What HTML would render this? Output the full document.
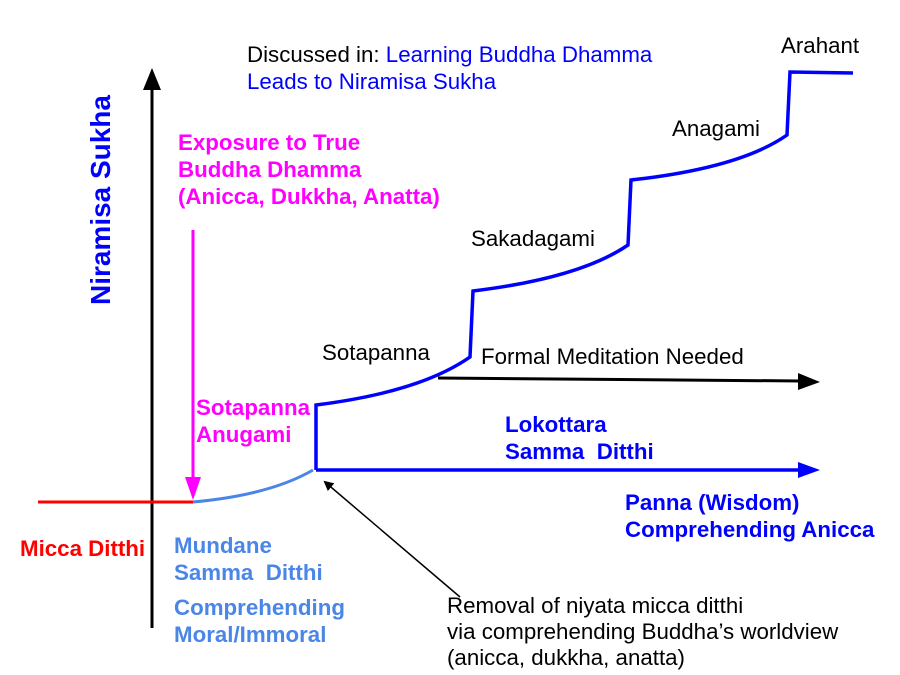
<!DOCTYPE html>
<html><head><meta charset="utf-8"><style>
body{margin:0;background:#fff}
svg{display:block;font-family:"Liberation Sans",Arial,sans-serif}
</style></head><body>
<svg width="900" height="675" viewBox="0 0 900 675">
<defs>
<marker id="ab" markerWidth="10" markerHeight="10" refX="8" refY="5" orient="auto" markerUnits="userSpaceOnUse"><path d="M0,0L10,5L0,10z" fill="#000"/></marker>
</defs>
<line x1="152" y1="628" x2="152" y2="88" stroke="#000" stroke-width="3"/>
<path d="M143,90L152,68L161,90z" fill="#000"/>
<text transform="translate(110,305) rotate(-90)" font-size="28" font-weight="bold" fill="#0000ff" textLength="210">Niramisa Sukha</text>
<line x1="38" y1="502" x2="193" y2="502" stroke="#ff0000" stroke-width="3"/>
<line x1="193" y1="230" x2="193" y2="478" stroke="#ff00ff" stroke-width="3"/>
<path d="M185,477L193,500L201,477z" fill="#ff00ff"/>
<path d="M193,502 Q270,495 313,470" fill="none" stroke="#4a86e8" stroke-width="3"/>
<path d="M316,470 L316,405 Q420,392 470,357 L473,291 Q580,278 628,245 L631,180 Q740,168 787,135 L790,72 L853,73" fill="none" stroke="#0000ff" stroke-width="3.5"/>
<line x1="316" y1="470" x2="800" y2="470" stroke="#0000ff" stroke-width="3.5"/>
<path d="M798,462L820,470L798,478z" fill="#0000ff"/>
<line x1="438" y1="378" x2="800" y2="381" stroke="#000" stroke-width="3"/>
<path d="M798,373L820,382L798,390z" fill="#000"/>
<line x1="460" y1="597" x2="325" y2="482" stroke="#000" stroke-width="1.5" marker-end="url(#ab)"/>

<g font-size="22.3">
<text x="247" y="62" fill="#000">Discussed in: <tspan fill="#0000ff">Learning Buddha Dhamma</tspan></text>
<text x="247" y="89" fill="#0000ff">Leads to Niramisa Sukha</text>
<text x="781" y="53">Arahant</text>
<text x="672" y="136">Anagami</text>
<text x="471" y="246">Sakadagami</text>
<text x="322" y="360">Sotapanna</text>
<text x="481" y="364">Formal Meditation Needed</text>
<text x="447" y="613">Removal of niyata micca ditthi</text>
<text x="447" y="639">via comprehending Buddha’s worldview</text>
<text x="447" y="665">(anicca, dukkha, anatta)</text>
</g>
<g font-size="22.3" font-weight="bold">
<text x="178" y="150" fill="#ff00ff">Exposure to True</text>
<text x="178" y="177" fill="#ff00ff">Buddha Dhamma</text>
<text x="178" y="204" fill="#ff00ff">(Anicca, Dukkha, Anatta)</text>
<text x="196" y="415" fill="#ff00ff">Sotapanna</text>
<text x="196" y="442" fill="#ff00ff">Anugami</text>
<text x="505" y="432" fill="#0000ff">Lokottara</text>
<text x="505" y="459" fill="#0000ff">Samma&#160; Ditthi</text>
<text x="625" y="510" fill="#0000ff">Panna (Wisdom)</text>
<text x="625" y="537" fill="#0000ff">Comprehending Anicca</text>
<text x="20" y="556" fill="#ff0000">Micca Ditthi</text>
<text x="174" y="553" fill="#4a86e8">Mundane</text>
<text x="174" y="580" fill="#4a86e8">Samma&#160; Ditthi</text>
<text x="174" y="615" fill="#4a86e8">Comprehending</text>
<text x="174" y="642" fill="#4a86e8">Moral/Immoral</text>
</g>
</svg>
</body></html>
